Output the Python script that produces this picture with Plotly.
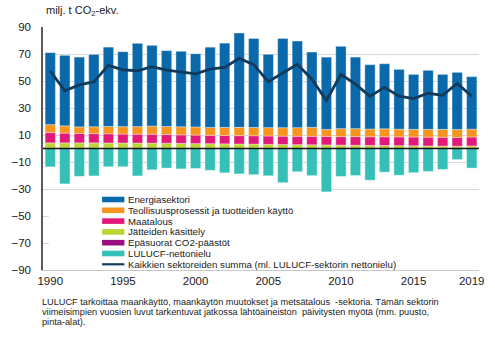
import plotly.graph_objects as go

# Finland's greenhouse gas emissions by sector, million t CO2-eq.
years = list(range(1990, 2020))

energy = [53.3, 52.2, 51.7, 53.6, 58.8, 55.5, 61.7, 59.8, 56.2, 55.9,
          54.2, 59.5, 62.4, 69.9, 66.0, 54.3, 66.0, 64.1, 55.8, 53.5,
          61.0, 53.0, 47.7, 48.2, 44.3, 40.7, 43.7, 40.7, 42.3, 38.9]
industry = [5.9, 5.4, 4.9, 5.1, 5.4, 5.5, 5.6, 6.0, 6.0, 6.0,
            6.0, 5.8, 6.0, 6.1, 6.1, 6.2, 6.3, 6.4, 6.6, 5.2,
            5.9, 5.9, 5.7, 5.9, 5.7, 5.7, 5.8, 5.9, 5.9, 5.8]
agriculture = [7.6, 7.2, 6.9, 6.8, 6.8, 6.6, 6.6, 6.6, 6.4, 6.3,
               6.3, 6.2, 6.2, 6.2, 6.2, 6.2, 6.2, 6.2, 6.3, 6.3,
               6.3, 6.4, 6.4, 6.5, 6.5, 6.5, 6.5, 6.5, 6.5, 6.6]
waste = [3.9, 3.9, 3.9, 3.9, 3.8, 3.8, 3.7, 3.7, 3.6, 3.5,
         3.4, 3.3, 3.2, 3.1, 3.0, 2.8, 2.7, 2.6, 2.5, 2.4,
         2.3, 2.2, 2.1, 2.0, 1.9, 1.8, 1.7, 1.6, 1.5, 1.7]
indirect = [0.3, 0.3, 0.3, 0.3, 0.3, 0.3, 0.3, 0.3, 0.3, 0.3,
            0.25, 0.25, 0.25, 0.25, 0.25, 0.25, 0.25, 0.25, 0.25, 0.25,
            0.2, 0.2, 0.2, 0.2, 0.2, 0.2, 0.2, 0.2, 0.2, 0.2]
lulucf = [-13.6, -26.2, -20.6, -20.3, -13.5, -13.5, -20.3, -15.8, -14.5, -15.1,
          -14.8, -16.2, -18.0, -18.8, -19.4, -20.2, -25.3, -17.2, -20.1, -32.1,
          -20.7, -20.0, -23.5, -17.5, -19.8, -17.9, -17.0, -15.5, -8.2, -14.5]

# net total of all sectors including the LULUCF sink
total = [sum(v) for v in zip(energy, industry, agriculture, waste, indirect, lulucf)]

y_ticks = list(range(-90, 91, 20))
x_ticks = [1990, 1995, 2000, 2005, 2010, 2015, 2019]

C_ENERGY = "#0a69ab"
C_INDUSTRY = "#f7941e"
C_AGRI = "#e2197b"
C_WASTE = "#bcd532"
C_INDIRECT = "#9a0c7f"
C_LULUCF = "#34c0b6"
C_TOTAL = "#123a5a"

FONT = "Liberation Sans, Arial, sans-serif"
TXT = "#1a1a1a"

# plot area in pixels
W, H = 495, 340
ML, MR, MT, MB = 34, 11, 27, 70
PH = H - MT - MB


def ypx(py):
    """Pixel row -> y value on the axis."""
    return 90 - (py - MT) * 180 / PH


def xpx(px):
    """Pixel column -> x value on the axis."""
    return 1989.5 + (px - ML) * 30 / (W - ML - MR)


bar_line = dict(color="rgba(255,255,255,0.45)", width=0.8)

fig = go.Figure()
stack = [
    ("Epäsuorat CO2-päästöt", indirect, C_INDIRECT),
    ("Jätteiden käsittely", waste, C_WASTE),
    ("Maatalous", agriculture, C_AGRI),
    ("Teollisuusprosessit ja tuotteiden käyttö", industry, C_INDUSTRY),
    ("Energiasektori", energy, C_ENERGY),
    ("LULUCF-nettonielu", lulucf, C_LULUCF),
]
for name, vals, col in stack:
    fig.add_trace(go.Bar(x=years, y=vals, name=name,
                         marker=dict(color=col, line=bar_line)))

fig.add_trace(go.Scatter(x=years, y=total, mode="lines",
                         name="Kaikkien sektoreiden summa (ml. LULUCF-sektorin nettonielu)",
                         line=dict(color=C_TOTAL, width=2.8)))

shapes = [
    # zero line over the bars
    dict(type="line", xref="x", yref="y", x0=1989.5, x1=2019.5, y0=0, y1=0,
         line=dict(color="#111111", width=1.5), layer="above"),
    # white panel behind the legend
    dict(type="rect", xref="x", yref="y", x0=xpx(40), x1=2019.5,
         y0=ypx(195), y1=ypx(268.5), fillcolor="white",
         line=dict(width=0), layer="above"),
]
annotations = []

legend_items = [
    ("Energiasektori", C_ENERGY, "bar"),
    ("Teollisuusprosessit ja tuotteiden käyttö", C_INDUSTRY, "bar"),
    ("Maatalous", C_AGRI, "bar"),
    ("Jätteiden käsittely", C_WASTE, "bar"),
    ("Epäsuorat CO2-päästöt", C_INDIRECT, "bar"),
    ("LULUCF-nettonielu", C_LULUCF, "bar"),
    ("Kaikkien sektoreiden summa (ml. LULUCF-sektorin nettonielu)", C_TOTAL, "line"),
]
for i, (label, col, kind) in enumerate(legend_items):
    cy = 199.5 + i * 10.8
    if kind == "bar":
        shapes.append(dict(type="rect", xref="x", yref="y",
                           x0=xpx(95), x1=xpx(118), y0=ypx(cy - 2.8), y1=ypx(cy + 2.8),
                           fillcolor=col, line=dict(width=0), layer="above"))
    else:
        shapes.append(dict(type="line", xref="x", yref="y",
                           x0=xpx(95), x1=xpx(118), y0=ypx(cy), y1=ypx(cy),
                           line=dict(color=col, width=2.2), layer="above"))
    annotations.append(dict(text=label, xref="x", yref="y", x=xpx(121), y=ypx(cy),
                            xanchor="left", yanchor="middle", showarrow=False,
                            borderpad=0,
                            font=dict(family=FONT, size=9.7, color=TXT)))

annotations.append(dict(text="milj. t CO<sub>2</sub>-ekv.", xref="paper", yref="paper",
                        x=(35 - ML) / (W - ML - MR), y=(H - MB - 11) / PH,
                        xanchor="left", yanchor="middle", showarrow=False,
                        font=dict(family=FONT, size=11, color=TXT)))

footer = [
    "LULUCF tarkoittaa maankäyttö, maankäytön muutokset ja metsätalous  -sektoria. Tämän sektorin",
    "viimeisimpien vuosien luvut tarkentuvat jatkossa lähtöaineiston  päivitysten myötä (mm. puusto,",
    "pinta-alat).",
]
for i, line in enumerate(footer):
    py = 301.5 + i * 10.3
    annotations.append(dict(text=line, xref="paper", yref="paper",
                            x=(32 - ML) / (W - ML - MR), y=(H - MB - py) / PH,
                            xanchor="left", yanchor="middle", showarrow=False,
                            borderpad=0,
                            font=dict(family=FONT, size=9.2, color=TXT)))

fig.update_layout(
    width=W, height=H,
    margin=dict(l=ML, r=MR, t=MT, b=MB, pad=0),
    paper_bgcolor="white", plot_bgcolor="white",
    barmode="relative", bargap=0.29,
    showlegend=False,
    shapes=shapes, annotations=annotations,
    font=dict(family=FONT, size=11, color=TXT),
)
fig.update_xaxes(range=[1989.5, 2019.5], tickvals=x_ticks,
                 showgrid=False, zeroline=False,
                 showline=True, linecolor="#c8c8c8", linewidth=1,
                 ticks="", tickfont=dict(family=FONT, size=11.5, color=TXT))
fig.update_yaxes(range=[-90, 90], tickvals=y_ticks,
                 showgrid=True, gridcolor="#d6d6d6", gridwidth=1,
                 zeroline=False,
                 showline=True, linecolor="#5a5a5a", linewidth=1.5,
                 ticks="outside", ticklen=8, tickcolor="rgba(0,0,0,0)",
                 tickfont=dict(family=FONT, size=11.5, color=TXT))

fig.write_html("out.html")
